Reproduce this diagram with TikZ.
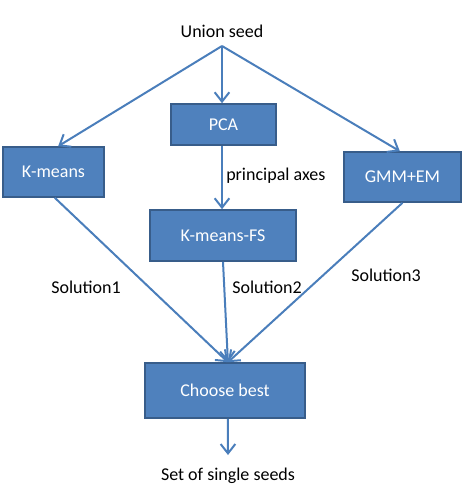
\documentclass[tikz,border=0pt]{standalone}
\usepackage{fontspec}
\setmainfont{Carlito}
\usetikzlibrary{arrows.meta}
\definecolor{boxfill}{HTML}{4F81BD}
\definecolor{boxline}{HTML}{385D8A}
\definecolor{arrowc}{HTML}{4A7EBB}
\tikzset{
  box/.style={draw=boxline, line width=1.2pt, fill=boxfill, text=white, inner sep=0pt, font=\fontsize{13.5}{16}\selectfont},
  lbl/.style={inner sep=0pt, font=\fontsize{13.5}{16}\selectfont},
  conn/.style={draw=arrowc, line width=1.5pt, -{Straight Barb[length=7pt,width=11pt,line width=1.5pt]}}
}
\begin{document}
\begin{tikzpicture}[x=0.75pt,y=-0.75pt]
\useasboundingbox (0,0) rectangle (464,497);
\node[lbl] (us) at (222,31) {Union seed};
\coordinate (apex) at (222,46);
\node[box, minimum width=78.75pt, minimum height=30.75pt] (pca) at (223.5,124.5) {PCA};
\node[box, minimum width=75.75pt, minimum height=37.5pt] (km) at (53.5,172) {K-means};
\node[box, minimum width=87.75pt, minimum height=37.5pt] (gmm) at (402.5,177) {GMM+EM};
\node[box, minimum width=109.5pt, minimum height=38.25pt] (kfs) at (223,235.5) {K-means-FS};
\node[box, minimum width=120pt, minimum height=41.25pt] (cb) at (225,390.5) {Choose best};
\node[lbl] (out) at (228,476) {Set of single seeds};
\coordinate (outtip) at (228,455);
\draw[conn] (apex) -- ([xshift=3.5pt]km.north);
\draw[conn] (apex) -- (pca.north -| apex);
\draw[conn] (apex) -- ([xshift=-2pt]gmm.north);
\draw[conn] (pca.south -| apex) -- (kfs.north -| apex);
\draw[conn] ([xshift=1pt]km.south) -- ([xshift=2.2pt]cb.north);
\draw[conn] (kfs.south) -- ([xshift=2.2pt]cb.north);
\draw[conn] (gmm.south) -- ([xshift=2.2pt]cb.north);
\draw[conn] ([xshift=2.2pt]cb.south) -- (outtip);
\node[lbl, anchor=west] (pa) at (226,176) {principal axes};
\node[lbl] (s1) at (86,287) {Solution1};
\node[lbl] (s2) at (267,287) {Solution2};
\node[lbl] (s3) at (386,275) {Solution3};
\end{tikzpicture}
\end{document}
